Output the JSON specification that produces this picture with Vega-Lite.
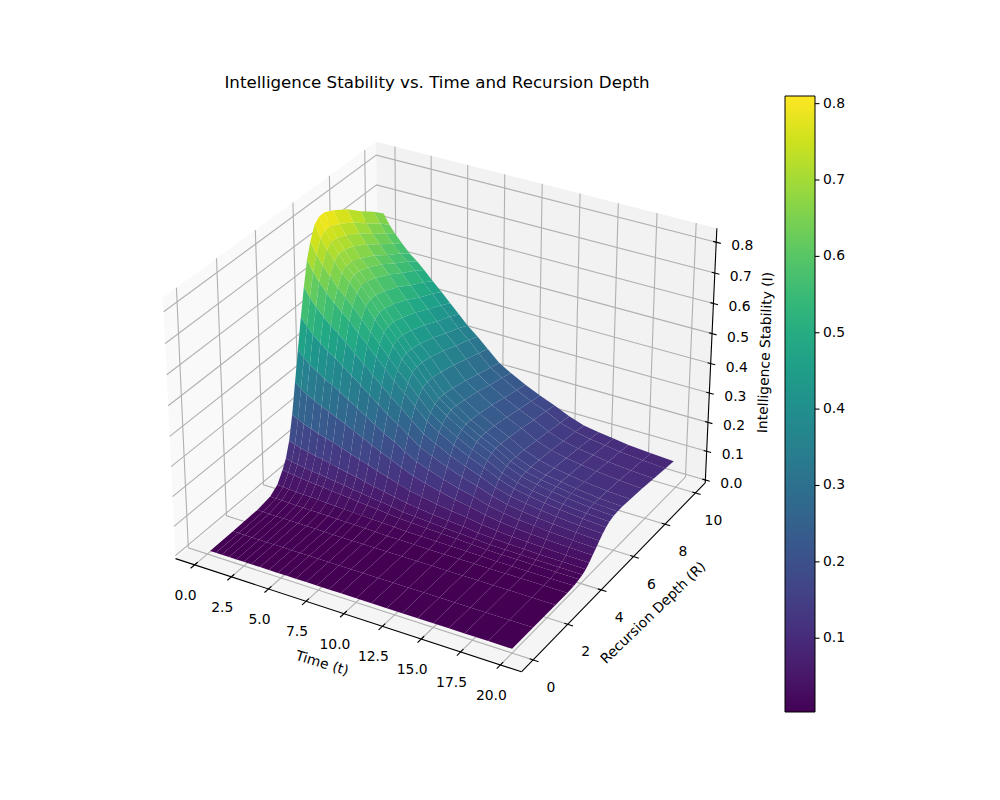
{"$schema":"https://vega.github.io/schema/vega-lite/v6.json","width":1000,"height":800,"padding":0,"autosize":{"type":"none"},"background":"white","config":{"view":{"stroke":null},"font":"DejaVu Sans"},
"title":{"text":"Intelligence Stability vs. Time and Recursion Depth","font":"DejaVu Sans","fontSize":16.67,"fontWeight":"normal","color":"black","anchor":"middle","dx":-63,"dy":96},
"data":{"values":[
{"k":"p","d":"l","t":-1.312,"R":-0.656,"I":-0.01},{"k":"p","d":"l","t":-1.312,"R":10.656,"I":-0.01},{"k":"p","d":"l","t":-1.312,"R":10.656,"I":0.845},{"k":"p","d":"l","t":-1.312,"R":-0.656,"I":0.845},
{"k":"p","d":"b","t":-1.312,"R":10.656,"I":-0.01},{"k":"p","d":"b","t":21.31,"R":10.656,"I":-0.01},{"k":"p","d":"b","t":21.31,"R":10.656,"I":0.845},{"k":"p","d":"b","t":-1.312,"R":10.656,"I":0.845},
{"k":"p","d":"f","t":-1.312,"R":-0.656,"I":-0.01},{"k":"p","d":"f","t":21.31,"R":-0.656,"I":-0.01},{"k":"p","d":"f","t":21.31,"R":10.656,"I":-0.01},{"k":"p","d":"f","t":-1.312,"R":10.656,"I":-0.01},
{"k":"g","d":"t0","t":0,"R":-0.656,"I":-0.01},{"k":"g","d":"t0","t":0,"R":10.656,"I":-0.01},{"k":"g","d":"t0","t":0,"R":10.656,"I":0.845},
{"k":"g","d":"t1","t":2.5,"R":-0.656,"I":-0.01},{"k":"g","d":"t1","t":2.5,"R":10.656,"I":-0.01},{"k":"g","d":"t1","t":2.5,"R":10.656,"I":0.845},
{"k":"g","d":"t2","t":5,"R":-0.656,"I":-0.01},{"k":"g","d":"t2","t":5,"R":10.656,"I":-0.01},{"k":"g","d":"t2","t":5,"R":10.656,"I":0.845},
{"k":"g","d":"t3","t":7.5,"R":-0.656,"I":-0.01},{"k":"g","d":"t3","t":7.5,"R":10.656,"I":-0.01},{"k":"g","d":"t3","t":7.5,"R":10.656,"I":0.845},
{"k":"g","d":"t4","t":10,"R":-0.656,"I":-0.01},{"k":"g","d":"t4","t":10,"R":10.656,"I":-0.01},{"k":"g","d":"t4","t":10,"R":10.656,"I":0.845},
{"k":"g","d":"t5","t":12.5,"R":-0.656,"I":-0.01},{"k":"g","d":"t5","t":12.5,"R":10.656,"I":-0.01},{"k":"g","d":"t5","t":12.5,"R":10.656,"I":0.845},
{"k":"g","d":"t6","t":15,"R":-0.656,"I":-0.01},{"k":"g","d":"t6","t":15,"R":10.656,"I":-0.01},{"k":"g","d":"t6","t":15,"R":10.656,"I":0.845},
{"k":"g","d":"t7","t":17.5,"R":-0.656,"I":-0.01},{"k":"g","d":"t7","t":17.5,"R":10.656,"I":-0.01},{"k":"g","d":"t7","t":17.5,"R":10.656,"I":0.845},
{"k":"g","d":"t8","t":20,"R":-0.656,"I":-0.01},{"k":"g","d":"t8","t":20,"R":10.656,"I":-0.01},{"k":"g","d":"t8","t":20,"R":10.656,"I":0.845},
{"k":"g","d":"r0","t":21.31,"R":0,"I":-0.01},{"k":"g","d":"r0","t":-1.312,"R":0,"I":-0.01},{"k":"g","d":"r0","t":-1.312,"R":0,"I":0.845},
{"k":"g","d":"r1","t":21.31,"R":2,"I":-0.01},{"k":"g","d":"r1","t":-1.312,"R":2,"I":-0.01},{"k":"g","d":"r1","t":-1.312,"R":2,"I":0.845},
{"k":"g","d":"r2","t":21.31,"R":4,"I":-0.01},{"k":"g","d":"r2","t":-1.312,"R":4,"I":-0.01},{"k":"g","d":"r2","t":-1.312,"R":4,"I":0.845},
{"k":"g","d":"r3","t":21.31,"R":6,"I":-0.01},{"k":"g","d":"r3","t":-1.312,"R":6,"I":-0.01},{"k":"g","d":"r3","t":-1.312,"R":6,"I":0.845},
{"k":"g","d":"r4","t":21.31,"R":8,"I":-0.01},{"k":"g","d":"r4","t":-1.312,"R":8,"I":-0.01},{"k":"g","d":"r4","t":-1.312,"R":8,"I":0.845},
{"k":"g","d":"r5","t":21.31,"R":10,"I":-0.01},{"k":"g","d":"r5","t":-1.312,"R":10,"I":-0.01},{"k":"g","d":"r5","t":-1.312,"R":10,"I":0.845},
{"k":"g","d":"i0","t":21.31,"R":10.656,"I":0},{"k":"g","d":"i0","t":-1.312,"R":10.656,"I":0},{"k":"g","d":"i0","t":-1.312,"R":-0.656,"I":0},
{"k":"g","d":"i1","t":21.31,"R":10.656,"I":0.1},{"k":"g","d":"i1","t":-1.312,"R":10.656,"I":0.1},{"k":"g","d":"i1","t":-1.312,"R":-0.656,"I":0.1},
{"k":"g","d":"i2","t":21.31,"R":10.656,"I":0.2},{"k":"g","d":"i2","t":-1.312,"R":10.656,"I":0.2},{"k":"g","d":"i2","t":-1.312,"R":-0.656,"I":0.2},
{"k":"g","d":"i3","t":21.31,"R":10.656,"I":0.3},{"k":"g","d":"i3","t":-1.312,"R":10.656,"I":0.3},{"k":"g","d":"i3","t":-1.312,"R":-0.656,"I":0.3},
{"k":"g","d":"i4","t":21.31,"R":10.656,"I":0.4},{"k":"g","d":"i4","t":-1.312,"R":10.656,"I":0.4},{"k":"g","d":"i4","t":-1.312,"R":-0.656,"I":0.4},
{"k":"g","d":"i5","t":21.31,"R":10.656,"I":0.5},{"k":"g","d":"i5","t":-1.312,"R":10.656,"I":0.5},{"k":"g","d":"i5","t":-1.312,"R":-0.656,"I":0.5},
{"k":"g","d":"i6","t":21.31,"R":10.656,"I":0.6},{"k":"g","d":"i6","t":-1.312,"R":10.656,"I":0.6},{"k":"g","d":"i6","t":-1.312,"R":-0.656,"I":0.6},
{"k":"g","d":"i7","t":21.31,"R":10.656,"I":0.7},{"k":"g","d":"i7","t":-1.312,"R":10.656,"I":0.7},{"k":"g","d":"i7","t":-1.312,"R":-0.656,"I":0.7},
{"k":"g","d":"i8","t":21.31,"R":10.656,"I":0.8},{"k":"g","d":"i8","t":-1.312,"R":10.656,"I":0.8},{"k":"g","d":"i8","t":-1.312,"R":-0.656,"I":0.8},
{"k":"a","d":"at","t":-1.312,"R":-0.656,"I":-0.01},{"k":"a","d":"at","t":21.31,"R":-0.656,"I":-0.01},
{"k":"a","d":"ar","t":21.31,"R":-0.656,"I":-0.01},{"k":"a","d":"ar","t":21.31,"R":10.656,"I":-0.01},
{"k":"a","d":"ai","t":21.31,"R":10.656,"I":-0.01},{"k":"a","d":"ai","t":21.31,"R":10.656,"I":0.845},
{"k":"a","d":"t0","t":0,"R":-0.86,"I":-0.01},{"k":"a","d":"t0","t":0,"R":-0.5,"I":-0.01},
{"k":"a","d":"t1","t":2.5,"R":-0.86,"I":-0.01},{"k":"a","d":"t1","t":2.5,"R":-0.5,"I":-0.01},
{"k":"a","d":"t2","t":5,"R":-0.86,"I":-0.01},{"k":"a","d":"t2","t":5,"R":-0.5,"I":-0.01},
{"k":"a","d":"t3","t":7.5,"R":-0.86,"I":-0.01},{"k":"a","d":"t3","t":7.5,"R":-0.5,"I":-0.01},
{"k":"a","d":"t4","t":10,"R":-0.86,"I":-0.01},{"k":"a","d":"t4","t":10,"R":-0.5,"I":-0.01},
{"k":"a","d":"t5","t":12.5,"R":-0.86,"I":-0.01},{"k":"a","d":"t5","t":12.5,"R":-0.5,"I":-0.01},
{"k":"a","d":"t6","t":15,"R":-0.86,"I":-0.01},{"k":"a","d":"t6","t":15,"R":-0.5,"I":-0.01},
{"k":"a","d":"t7","t":17.5,"R":-0.86,"I":-0.01},{"k":"a","d":"t7","t":17.5,"R":-0.5,"I":-0.01},
{"k":"a","d":"t8","t":20,"R":-0.86,"I":-0.01},{"k":"a","d":"t8","t":20,"R":-0.5,"I":-0.01},
{"k":"a","d":"r0","t":21.1,"R":0,"I":-0.01},{"k":"a","d":"r0","t":21.65,"R":0,"I":-0.01},
{"k":"a","d":"r1","t":21.1,"R":2,"I":-0.01},{"k":"a","d":"r1","t":21.65,"R":2,"I":-0.01},
{"k":"a","d":"r2","t":21.1,"R":4,"I":-0.01},{"k":"a","d":"r2","t":21.65,"R":4,"I":-0.01},
{"k":"a","d":"r3","t":21.1,"R":6,"I":-0.01},{"k":"a","d":"r3","t":21.65,"R":6,"I":-0.01},
{"k":"a","d":"r4","t":21.1,"R":8,"I":-0.01},{"k":"a","d":"r4","t":21.65,"R":8,"I":-0.01},
{"k":"a","d":"r5","t":21.1,"R":10,"I":-0.01},{"k":"a","d":"r5","t":21.65,"R":10,"I":-0.01},
{"k":"a","d":"i0","t":21.11,"R":10.656,"I":0},{"k":"a","d":"i0","t":21.6,"R":10.656,"I":0},
{"k":"a","d":"i1","t":21.11,"R":10.656,"I":0.1},{"k":"a","d":"i1","t":21.6,"R":10.656,"I":0.1},
{"k":"a","d":"i2","t":21.11,"R":10.656,"I":0.2},{"k":"a","d":"i2","t":21.6,"R":10.656,"I":0.2},
{"k":"a","d":"i3","t":21.11,"R":10.656,"I":0.3},{"k":"a","d":"i3","t":21.6,"R":10.656,"I":0.3},
{"k":"a","d":"i4","t":21.11,"R":10.656,"I":0.4},{"k":"a","d":"i4","t":21.6,"R":10.656,"I":0.4},
{"k":"a","d":"i5","t":21.11,"R":10.656,"I":0.5},{"k":"a","d":"i5","t":21.6,"R":10.656,"I":0.5},
{"k":"a","d":"i6","t":21.11,"R":10.656,"I":0.6},{"k":"a","d":"i6","t":21.6,"R":10.656,"I":0.6},
{"k":"a","d":"i7","t":21.11,"R":10.656,"I":0.7},{"k":"a","d":"i7","t":21.6,"R":10.656,"I":0.7},
{"k":"a","d":"i8","t":21.11,"R":10.656,"I":0.8},{"k":"a","d":"i8","t":21.6,"R":10.656,"I":0.8},
{"k":"lt","t":0,"R":-0.656,"I":-0.01,"s":"0.0"},{"k":"lt","t":2.5,"R":-0.656,"I":-0.01,"s":"2.5"},{"k":"lt","t":5,"R":-0.656,"I":-0.01,"s":"5.0"},{"k":"lt","t":7.5,"R":-0.656,"I":-0.01,"s":"7.5"},{"k":"lt","t":10,"R":-0.656,"I":-0.01,"s":"10.0"},{"k":"lt","t":12.5,"R":-0.656,"I":-0.01,"s":"12.5"},{"k":"lt","t":15,"R":-0.656,"I":-0.01,"s":"15.0"},{"k":"lt","t":17.5,"R":-0.656,"I":-0.01,"s":"17.5"},{"k":"lt","t":20,"R":-0.656,"I":-0.01,"s":"20.0"},
{"k":"lr","t":21.31,"R":0,"I":-0.01,"s":"0"},{"k":"lr","t":21.31,"R":2,"I":-0.01,"s":"2"},{"k":"lr","t":21.31,"R":4,"I":-0.01,"s":"4"},{"k":"lr","t":21.31,"R":6,"I":-0.01,"s":"6"},{"k":"lr","t":21.31,"R":8,"I":-0.01,"s":"8"},{"k":"lr","t":21.31,"R":10,"I":-0.01,"s":"10"},
{"k":"li","t":21.31,"R":10.656,"I":0,"s":"0.0"},{"k":"li","t":21.31,"R":10.656,"I":0.1,"s":"0.1"},{"k":"li","t":21.31,"R":10.656,"I":0.2,"s":"0.2"},{"k":"li","t":21.31,"R":10.656,"I":0.3,"s":"0.3"},{"k":"li","t":21.31,"R":10.656,"I":0.4,"s":"0.4"},{"k":"li","t":21.31,"R":10.656,"I":0.5,"s":"0.5"},{"k":"li","t":21.31,"R":10.656,"I":0.6,"s":"0.6"},{"k":"li","t":21.31,"R":10.656,"I":0.7,"s":"0.7"},{"k":"li","t":21.31,"R":10.656,"I":0.8,"s":"0.8"},
{"k":"tt","t":10,"R":-0.656,"I":-0.01,"s":"Time (t)"},{"k":"tr","t":21.31,"R":5,"I":-0.01,"s":"Recursion Depth (R)"},{"k":"ti","t":21.31,"R":10.656,"I":0.4,"s":"Intelligence Stability (I)"},
{"k":"cb","cb":0.1},{"k":"cb","cb":0.2},{"k":"cb","cb":0.3},{"k":"cb","cb":0.4},{"k":"cb","cb":0.5},{"k":"cb","cb":0.6},{"k":"cb","cb":0.7},{"k":"cb","cb":0.8},
{"t":0.2,"R":9.8,"I":0.66},{"t":0.2,"R":9.25,"I":0.69},{"t":0.2,"R":8.5,"I":0.725},{"t":0.2,"R":7.75,"I":0.765},{"t":0.2,"R":7,"I":0.795},{"t":0.2,"R":6.5,"I":0.81},{"t":0.2,"R":6.2,"I":0.81},{"t":0.2,"R":5.95,"I":0.795},{"t":0.2,"R":5.7,"I":0.75},{"t":0.2,"R":5.5,"I":0.7},{"t":0.2,"R":5.3,"I":0.62},{"t":0.2,"R":5.1,"I":0.53},{"t":0.2,"R":4.9,"I":0.43},{"t":0.2,"R":4.7,"I":0.33},{"t":0.2,"R":4.5,"I":0.23},{"t":0.2,"R":4.3,"I":0.15},{"t":0.2,"R":4.1,"I":0.1},{"t":0.2,"R":3.9,"I":0.07},{"t":0.2,"R":3.6,"I":0.035},{"t":0.2,"R":3.2,"I":0.016},{"t":0.2,"R":2.5,"I":0.007},{"t":0.2,"R":1.2,"I":0.005},{"t":0.2,"R":0,"I":0.004},
{"t":0.6,"R":9.8,"I":0.627},{"t":0.6,"R":9.25,"I":0.656},{"t":0.6,"R":8.5,"I":0.689},{"t":0.6,"R":7.75,"I":0.727},{"t":0.6,"R":7,"I":0.755},{"t":0.6,"R":6.5,"I":0.77},{"t":0.6,"R":6.2,"I":0.77},{"t":0.6,"R":5.95,"I":0.755},{"t":0.6,"R":5.7,"I":0.713},{"t":0.6,"R":5.5,"I":0.665},{"t":0.6,"R":5.3,"I":0.589},{"t":0.6,"R":5.1,"I":0.504},{"t":0.6,"R":4.9,"I":0.409},{"t":0.6,"R":4.7,"I":0.314},{"t":0.6,"R":4.5,"I":0.219},{"t":0.6,"R":4.3,"I":0.143},{"t":0.6,"R":4.1,"I":0.095},{"t":0.6,"R":3.9,"I":0.067},{"t":0.6,"R":3.6,"I":0.033},{"t":0.6,"R":3.2,"I":0.015},{"t":0.6,"R":2.5,"I":0.007},{"t":0.6,"R":1.2,"I":0.005},{"t":0.6,"R":0,"I":0.004},
{"t":1,"R":9.8,"I":0.601},{"t":1,"R":9.25,"I":0.628},{"t":1,"R":8.5,"I":0.66},{"t":1,"R":7.75,"I":0.696},{"t":1,"R":7,"I":0.723},{"t":1,"R":6.5,"I":0.737},{"t":1,"R":6.2,"I":0.737},{"t":1,"R":5.95,"I":0.723},{"t":1,"R":5.7,"I":0.683},{"t":1,"R":5.5,"I":0.637},{"t":1,"R":5.3,"I":0.564},{"t":1,"R":5.1,"I":0.482},{"t":1,"R":4.9,"I":0.391},{"t":1,"R":4.7,"I":0.3},{"t":1,"R":4.5,"I":0.209},{"t":1,"R":4.3,"I":0.137},{"t":1,"R":4.1,"I":0.091},{"t":1,"R":3.9,"I":0.064},{"t":1,"R":3.6,"I":0.032},{"t":1,"R":3.2,"I":0.015},{"t":1,"R":2.5,"I":0.006},{"t":1,"R":1.2,"I":0.005},{"t":1,"R":0,"I":0.004},
{"t":1.5,"R":9.8,"I":0.574},{"t":1.5,"R":9.25,"I":0.6},{"t":1.5,"R":8.5,"I":0.631},{"t":1.5,"R":7.75,"I":0.666},{"t":1.5,"R":7,"I":0.692},{"t":1.5,"R":6.5,"I":0.705},{"t":1.5,"R":6.2,"I":0.705},{"t":1.5,"R":5.95,"I":0.692},{"t":1.5,"R":5.7,"I":0.653},{"t":1.5,"R":5.5,"I":0.609},{"t":1.5,"R":5.3,"I":0.539},{"t":1.5,"R":5.1,"I":0.461},{"t":1.5,"R":4.9,"I":0.374},{"t":1.5,"R":4.7,"I":0.287},{"t":1.5,"R":4.5,"I":0.2},{"t":1.5,"R":4.3,"I":0.131},{"t":1.5,"R":4.1,"I":0.087},{"t":1.5,"R":3.9,"I":0.061},{"t":1.5,"R":3.6,"I":0.03},{"t":1.5,"R":3.2,"I":0.014},{"t":1.5,"R":2.5,"I":0.006},{"t":1.5,"R":1.2,"I":0.004},{"t":1.5,"R":0,"I":0.004},
{"t":2,"R":9.8,"I":0.548},{"t":2,"R":9.25,"I":0.573},{"t":2,"R":8.5,"I":0.602},{"t":2,"R":7.75,"I":0.635},{"t":2,"R":7,"I":0.66},{"t":2,"R":6.5,"I":0.672},{"t":2,"R":6.2,"I":0.672},{"t":2,"R":5.95,"I":0.66},{"t":2,"R":5.7,"I":0.623},{"t":2,"R":5.5,"I":0.581},{"t":2,"R":5.3,"I":0.515},{"t":2,"R":5.1,"I":0.44},{"t":2,"R":4.9,"I":0.357},{"t":2,"R":4.7,"I":0.274},{"t":2,"R":4.5,"I":0.191},{"t":2,"R":4.3,"I":0.125},{"t":2,"R":4.1,"I":0.083},{"t":2,"R":3.9,"I":0.058},{"t":2,"R":3.6,"I":0.029},{"t":2,"R":3.2,"I":0.013},{"t":2,"R":2.5,"I":0.006},{"t":2,"R":1.2,"I":0.004},{"t":2,"R":0,"I":0.004},
{"t":2.5,"R":9.8,"I":0.528},{"t":2.5,"R":9.25,"I":0.552},{"t":2.5,"R":8.5,"I":0.58},{"t":2.5,"R":7.75,"I":0.612},{"t":2.5,"R":7,"I":0.636},{"t":2.5,"R":6.5,"I":0.648},{"t":2.5,"R":6.2,"I":0.648},{"t":2.5,"R":5.95,"I":0.636},{"t":2.5,"R":5.7,"I":0.6},{"t":2.5,"R":5.5,"I":0.56},{"t":2.5,"R":5.3,"I":0.496},{"t":2.5,"R":5.1,"I":0.424},{"t":2.5,"R":4.9,"I":0.344},{"t":2.5,"R":4.7,"I":0.264},{"t":2.5,"R":4.5,"I":0.184},{"t":2.5,"R":4.3,"I":0.12},{"t":2.5,"R":4.1,"I":0.08},{"t":2.5,"R":3.9,"I":0.056},{"t":2.5,"R":3.6,"I":0.028},{"t":2.5,"R":3.2,"I":0.013},{"t":2.5,"R":2.5,"I":0.006},{"t":2.5,"R":1.2,"I":0.004},{"t":2.5,"R":0,"I":0.004},
{"t":3,"R":9.8,"I":0.505},{"t":3,"R":9.25,"I":0.528},{"t":3,"R":8.5,"I":0.555},{"t":3,"R":7.75,"I":0.585},{"t":3,"R":7,"I":0.608},{"t":3,"R":6.5,"I":0.62},{"t":3,"R":6.2,"I":0.62},{"t":3,"R":5.95,"I":0.608},{"t":3,"R":5.7,"I":0.574},{"t":3,"R":5.5,"I":0.536},{"t":3,"R":5.3,"I":0.474},{"t":3,"R":5.1,"I":0.405},{"t":3,"R":4.9,"I":0.329},{"t":3,"R":4.7,"I":0.252},{"t":3,"R":4.5,"I":0.176},{"t":3,"R":4.3,"I":0.115},{"t":3,"R":4.1,"I":0.077},{"t":3,"R":3.9,"I":0.054},{"t":3,"R":3.6,"I":0.027},{"t":3,"R":3.2,"I":0.012},{"t":3,"R":2.5,"I":0.005},{"t":3,"R":1.2,"I":0.004},{"t":3,"R":0,"I":0.004},
{"t":3.6,"R":9.8,"I":0.475},{"t":3.6,"R":9.25,"I":0.497},{"t":3.6,"R":8.5,"I":0.522},{"t":3.6,"R":7.75,"I":0.551},{"t":3.6,"R":7,"I":0.572},{"t":3.6,"R":6.5,"I":0.583},{"t":3.6,"R":6.2,"I":0.583},{"t":3.6,"R":5.95,"I":0.572},{"t":3.6,"R":5.7,"I":0.54},{"t":3.6,"R":5.5,"I":0.504},{"t":3.6,"R":5.3,"I":0.446},{"t":3.6,"R":5.1,"I":0.382},{"t":3.6,"R":4.9,"I":0.31},{"t":3.6,"R":4.7,"I":0.238},{"t":3.6,"R":4.5,"I":0.166},{"t":3.6,"R":4.3,"I":0.108},{"t":3.6,"R":4.1,"I":0.072},{"t":3.6,"R":3.9,"I":0.05},{"t":3.6,"R":3.6,"I":0.025},{"t":3.6,"R":3.2,"I":0.012},{"t":3.6,"R":2.5,"I":0.005},{"t":3.6,"R":1.2,"I":0.004},{"t":3.6,"R":0,"I":0.004},
{"t":4.2,"R":9.8,"I":0.446},{"t":4.2,"R":9.25,"I":0.466},{"t":4.2,"R":8.5,"I":0.489},{"t":4.2,"R":7.75,"I":0.516},{"t":4.2,"R":7,"I":0.537},{"t":4.2,"R":6.5,"I":0.547},{"t":4.2,"R":6.2,"I":0.547},{"t":4.2,"R":5.95,"I":0.537},{"t":4.2,"R":5.7,"I":0.506},{"t":4.2,"R":5.5,"I":0.473},{"t":4.2,"R":5.3,"I":0.419},{"t":4.2,"R":5.1,"I":0.358},{"t":4.2,"R":4.9,"I":0.29},{"t":4.2,"R":4.7,"I":0.223},{"t":4.2,"R":4.5,"I":0.155},{"t":4.2,"R":4.3,"I":0.101},{"t":4.2,"R":4.1,"I":0.068},{"t":4.2,"R":3.9,"I":0.047},{"t":4.2,"R":3.6,"I":0.024},{"t":4.2,"R":3.2,"I":0.011},{"t":4.2,"R":2.5,"I":0.005},{"t":4.2,"R":1.2,"I":0.004},{"t":4.2,"R":0,"I":0.004},
{"t":4.8,"R":9.8,"I":0.416},{"t":4.8,"R":9.25,"I":0.435},{"t":4.8,"R":8.5,"I":0.457},{"t":4.8,"R":7.75,"I":0.482},{"t":4.8,"R":7,"I":0.501},{"t":4.8,"R":6.5,"I":0.51},{"t":4.8,"R":6.2,"I":0.51},{"t":4.8,"R":5.95,"I":0.501},{"t":4.8,"R":5.7,"I":0.473},{"t":4.8,"R":5.5,"I":0.441},{"t":4.8,"R":5.3,"I":0.391},{"t":4.8,"R":5.1,"I":0.334},{"t":4.8,"R":4.9,"I":0.271},{"t":4.8,"R":4.7,"I":0.208},{"t":4.8,"R":4.5,"I":0.145},{"t":4.8,"R":4.3,"I":0.095},{"t":4.8,"R":4.1,"I":0.063},{"t":4.8,"R":3.9,"I":0.044},{"t":4.8,"R":3.6,"I":0.022},{"t":4.8,"R":3.2,"I":0.01},{"t":4.8,"R":2.5,"I":0.005},{"t":4.8,"R":1.2,"I":0.004},{"t":4.8,"R":0,"I":0.004},
{"t":5.4,"R":9.8,"I":0.386},{"t":5.4,"R":9.25,"I":0.404},{"t":5.4,"R":8.5,"I":0.424},{"t":5.4,"R":7.75,"I":0.448},{"t":5.4,"R":7,"I":0.465},{"t":5.4,"R":6.5,"I":0.474},{"t":5.4,"R":6.2,"I":0.474},{"t":5.4,"R":5.95,"I":0.465},{"t":5.4,"R":5.7,"I":0.439},{"t":5.4,"R":5.5,"I":0.41},{"t":5.4,"R":5.3,"I":0.363},{"t":5.4,"R":5.1,"I":0.31},{"t":5.4,"R":4.9,"I":0.252},{"t":5.4,"R":4.7,"I":0.193},{"t":5.4,"R":4.5,"I":0.135},{"t":5.4,"R":4.3,"I":0.088},{"t":5.4,"R":4.1,"I":0.059},{"t":5.4,"R":3.9,"I":0.041},{"t":5.4,"R":3.6,"I":0.02},{"t":5.4,"R":3.2,"I":0.009},{"t":5.4,"R":2.5,"I":0.004},{"t":5.4,"R":1.2,"I":0.004},{"t":5.4,"R":0,"I":0.004},
{"t":6,"R":9.8,"I":0.356},{"t":6,"R":9.25,"I":0.373},{"t":6,"R":8.5,"I":0.392},{"t":6,"R":7.75,"I":0.413},{"t":6,"R":7,"I":0.429},{"t":6,"R":6.5,"I":0.437},{"t":6,"R":6.2,"I":0.437},{"t":6,"R":5.95,"I":0.429},{"t":6,"R":5.7,"I":0.405},{"t":6,"R":5.5,"I":0.378},{"t":6,"R":5.3,"I":0.335},{"t":6,"R":5.1,"I":0.286},{"t":6,"R":4.9,"I":0.232},{"t":6,"R":4.7,"I":0.178},{"t":6,"R":4.5,"I":0.124},{"t":6,"R":4.3,"I":0.081},{"t":6,"R":4.1,"I":0.054},{"t":6,"R":3.9,"I":0.038},{"t":6,"R":3.6,"I":0.019},{"t":6,"R":3.2,"I":0.009},{"t":6,"R":2.5,"I":0.004},{"t":6,"R":1.2,"I":0.004},{"t":6,"R":0,"I":0.004},
{"t":6.7,"R":9.8,"I":0.327},{"t":6.7,"R":9.25,"I":0.342},{"t":6.7,"R":8.5,"I":0.359},{"t":6.7,"R":7.75,"I":0.379},{"t":6.7,"R":7,"I":0.394},{"t":6.7,"R":6.5,"I":0.401},{"t":6.7,"R":6.2,"I":0.401},{"t":6.7,"R":5.95,"I":0.394},{"t":6.7,"R":5.7,"I":0.371},{"t":6.7,"R":5.5,"I":0.347},{"t":6.7,"R":5.3,"I":0.307},{"t":6.7,"R":5.1,"I":0.262},{"t":6.7,"R":4.9,"I":0.213},{"t":6.7,"R":4.7,"I":0.163},{"t":6.7,"R":4.5,"I":0.114},{"t":6.7,"R":4.3,"I":0.074},{"t":6.7,"R":4.1,"I":0.05},{"t":6.7,"R":3.9,"I":0.035},{"t":6.7,"R":3.6,"I":0.017},{"t":6.7,"R":3.2,"I":0.008},{"t":6.7,"R":2.5,"I":0.004},{"t":6.7,"R":1.2,"I":0.004},{"t":6.7,"R":0,"I":0.004},
{"t":7.4,"R":9.8,"I":0.294},{"t":7.4,"R":9.25,"I":0.307},{"t":7.4,"R":8.5,"I":0.323},{"t":7.4,"R":7.75,"I":0.34},{"t":7.4,"R":7,"I":0.354},{"t":7.4,"R":6.5,"I":0.36},{"t":7.4,"R":6.2,"I":0.36},{"t":7.4,"R":5.95,"I":0.354},{"t":7.4,"R":5.7,"I":0.334},{"t":7.4,"R":5.5,"I":0.312},{"t":7.4,"R":5.3,"I":0.276},{"t":7.4,"R":5.1,"I":0.236},{"t":7.4,"R":4.9,"I":0.191},{"t":7.4,"R":4.7,"I":0.147},{"t":7.4,"R":4.5,"I":0.102},{"t":7.4,"R":4.3,"I":0.067},{"t":7.4,"R":4.1,"I":0.045},{"t":7.4,"R":3.9,"I":0.031},{"t":7.4,"R":3.6,"I":0.016},{"t":7.4,"R":3.2,"I":0.007},{"t":7.4,"R":2.5,"I":0.004},{"t":7.4,"R":1.2,"I":0.004},{"t":7.4,"R":0,"I":0.004},
{"t":8.2,"R":9.8,"I":0.257},{"t":8.2,"R":9.25,"I":0.269},{"t":8.2,"R":8.5,"I":0.283},{"t":8.2,"R":7.75,"I":0.298},{"t":8.2,"R":7,"I":0.31},{"t":8.2,"R":6.5,"I":0.316},{"t":8.2,"R":6.2,"I":0.316},{"t":8.2,"R":5.95,"I":0.31},{"t":8.2,"R":5.7,"I":0.293},{"t":8.2,"R":5.5,"I":0.273},{"t":8.2,"R":5.3,"I":0.242},{"t":8.2,"R":5.1,"I":0.207},{"t":8.2,"R":4.9,"I":0.168},{"t":8.2,"R":4.7,"I":0.129},{"t":8.2,"R":4.5,"I":0.09},{"t":8.2,"R":4.3,"I":0.059},{"t":8.2,"R":4.1,"I":0.039},{"t":8.2,"R":3.9,"I":0.027},{"t":8.2,"R":3.6,"I":0.014},{"t":8.2,"R":3.2,"I":0.006},{"t":8.2,"R":2.5,"I":0.004},{"t":8.2,"R":1.2,"I":0.004},{"t":8.2,"R":0,"I":0.004},
{"t":9,"R":9.8,"I":0.234},{"t":9,"R":9.25,"I":0.245},{"t":9,"R":8.5,"I":0.257},{"t":9,"R":7.75,"I":0.272},{"t":9,"R":7,"I":0.282},{"t":9,"R":6.5,"I":0.288},{"t":9,"R":6.2,"I":0.288},{"t":9,"R":5.95,"I":0.282},{"t":9,"R":5.7,"I":0.266},{"t":9,"R":5.5,"I":0.249},{"t":9,"R":5.3,"I":0.22},{"t":9,"R":5.1,"I":0.188},{"t":9,"R":4.9,"I":0.153},{"t":9,"R":4.7,"I":0.117},{"t":9,"R":4.5,"I":0.082},{"t":9,"R":4.3,"I":0.053},{"t":9,"R":4.1,"I":0.036},{"t":9,"R":3.9,"I":0.025},{"t":9,"R":3.6,"I":0.012},{"t":9,"R":3.2,"I":0.006},{"t":9,"R":2.5,"I":0.004},{"t":9,"R":1.2,"I":0.004},{"t":9,"R":0,"I":0.004},
{"t":10,"R":9.8,"I":0.208},{"t":10,"R":9.25,"I":0.217},{"t":10,"R":8.5,"I":0.228},{"t":10,"R":7.75,"I":0.241},{"t":10,"R":7,"I":0.25},{"t":10,"R":6.5,"I":0.255},{"t":10,"R":6.2,"I":0.255},{"t":10,"R":5.95,"I":0.25},{"t":10,"R":5.7,"I":0.236},{"t":10,"R":5.5,"I":0.221},{"t":10,"R":5.3,"I":0.195},{"t":10,"R":5.1,"I":0.167},{"t":10,"R":4.9,"I":0.135},{"t":10,"R":4.7,"I":0.104},{"t":10,"R":4.5,"I":0.072},{"t":10,"R":4.3,"I":0.047},{"t":10,"R":4.1,"I":0.032},{"t":10,"R":3.9,"I":0.022},{"t":10,"R":3.6,"I":0.011},{"t":10,"R":3.2,"I":0.005},{"t":10,"R":2.5,"I":0.004},{"t":10,"R":1.2,"I":0.004},{"t":10,"R":0,"I":0.004},
{"t":11,"R":9.8,"I":0.185},{"t":11,"R":9.25,"I":0.193},{"t":11,"R":8.5,"I":0.203},{"t":11,"R":7.75,"I":0.214},{"t":11,"R":7,"I":0.223},{"t":11,"R":6.5,"I":0.227},{"t":11,"R":6.2,"I":0.227},{"t":11,"R":5.95,"I":0.223},{"t":11,"R":5.7,"I":0.21},{"t":11,"R":5.5,"I":0.196},{"t":11,"R":5.3,"I":0.174},{"t":11,"R":5.1,"I":0.148},{"t":11,"R":4.9,"I":0.12},{"t":11,"R":4.7,"I":0.092},{"t":11,"R":4.5,"I":0.064},{"t":11,"R":4.3,"I":0.042},{"t":11,"R":4.1,"I":0.028},{"t":11,"R":3.9,"I":0.02},{"t":11,"R":3.6,"I":0.01},{"t":11,"R":3.2,"I":0.004},{"t":11,"R":2.5,"I":0.004},{"t":11,"R":1.2,"I":0.004},{"t":11,"R":0,"I":0.004},
{"t":12,"R":9.8,"I":0.165},{"t":12,"R":9.25,"I":0.173},{"t":12,"R":8.5,"I":0.181},{"t":12,"R":7.75,"I":0.191},{"t":12,"R":7,"I":0.199},{"t":12,"R":6.5,"I":0.203},{"t":12,"R":6.2,"I":0.203},{"t":12,"R":5.95,"I":0.199},{"t":12,"R":5.7,"I":0.188},{"t":12,"R":5.5,"I":0.175},{"t":12,"R":5.3,"I":0.155},{"t":12,"R":5.1,"I":0.133},{"t":12,"R":4.9,"I":0.108},{"t":12,"R":4.7,"I":0.083},{"t":12,"R":4.5,"I":0.058},{"t":12,"R":4.3,"I":0.038},{"t":12,"R":4.1,"I":0.025},{"t":12,"R":3.9,"I":0.018},{"t":12,"R":3.6,"I":0.009},{"t":12,"R":3.2,"I":0.004},{"t":12,"R":2.5,"I":0.004},{"t":12,"R":1.2,"I":0.004},{"t":12,"R":0,"I":0.004},
{"t":13,"R":9.8,"I":0.142},{"t":13,"R":9.25,"I":0.148},{"t":13,"R":8.5,"I":0.156},{"t":13,"R":7.75,"I":0.164},{"t":13,"R":7,"I":0.171},{"t":13,"R":6.5,"I":0.174},{"t":13,"R":6.2,"I":0.174},{"t":13,"R":5.95,"I":0.171},{"t":13,"R":5.7,"I":0.161},{"t":13,"R":5.5,"I":0.151},{"t":13,"R":5.3,"I":0.133},{"t":13,"R":5.1,"I":0.114},{"t":13,"R":4.9,"I":0.092},{"t":13,"R":4.7,"I":0.071},{"t":13,"R":4.5,"I":0.049},{"t":13,"R":4.3,"I":0.032},{"t":13,"R":4.1,"I":0.022},{"t":13,"R":3.9,"I":0.015},{"t":13,"R":3.6,"I":0.008},{"t":13,"R":3.2,"I":0.004},{"t":13,"R":2.5,"I":0.004},{"t":13,"R":1.2,"I":0.004},{"t":13,"R":0,"I":0.004},
{"t":14,"R":9.8,"I":0.125},{"t":14,"R":9.25,"I":0.131},{"t":14,"R":8.5,"I":0.138},{"t":14,"R":7.75,"I":0.145},{"t":14,"R":7,"I":0.151},{"t":14,"R":6.5,"I":0.154},{"t":14,"R":6.2,"I":0.154},{"t":14,"R":5.95,"I":0.151},{"t":14,"R":5.7,"I":0.143},{"t":14,"R":5.5,"I":0.133},{"t":14,"R":5.3,"I":0.118},{"t":14,"R":5.1,"I":0.101},{"t":14,"R":4.9,"I":0.082},{"t":14,"R":4.7,"I":0.063},{"t":14,"R":4.5,"I":0.044},{"t":14,"R":4.3,"I":0.029},{"t":14,"R":4.1,"I":0.019},{"t":14,"R":3.9,"I":0.013},{"t":14,"R":3.6,"I":0.007},{"t":14,"R":3.2,"I":0.004},{"t":14,"R":2.5,"I":0.004},{"t":14,"R":1.2,"I":0.004},{"t":14,"R":0,"I":0.004},
{"t":15,"R":9.8,"I":0.116},{"t":15,"R":9.25,"I":0.121},{"t":15,"R":8.5,"I":0.127},{"t":15,"R":7.75,"I":0.134},{"t":15,"R":7,"I":0.139},{"t":15,"R":6.5,"I":0.142},{"t":15,"R":6.2,"I":0.142},{"t":15,"R":5.95,"I":0.139},{"t":15,"R":5.7,"I":0.131},{"t":15,"R":5.5,"I":0.123},{"t":15,"R":5.3,"I":0.109},{"t":15,"R":5.1,"I":0.093},{"t":15,"R":4.9,"I":0.075},{"t":15,"R":4.7,"I":0.058},{"t":15,"R":4.5,"I":0.04},{"t":15,"R":4.3,"I":0.026},{"t":15,"R":4.1,"I":0.018},{"t":15,"R":3.9,"I":0.012},{"t":15,"R":3.6,"I":0.006},{"t":15,"R":3.2,"I":0.004},{"t":15,"R":2.5,"I":0.004},{"t":15,"R":1.2,"I":0.004},{"t":15,"R":0,"I":0.004},
{"t":16,"R":9.8,"I":0.109},{"t":16,"R":9.25,"I":0.114},{"t":16,"R":8.5,"I":0.12},{"t":16,"R":7.75,"I":0.126},{"t":16,"R":7,"I":0.131},{"t":16,"R":6.5,"I":0.134},{"t":16,"R":6.2,"I":0.134},{"t":16,"R":5.95,"I":0.131},{"t":16,"R":5.7,"I":0.124},{"t":16,"R":5.5,"I":0.116},{"t":16,"R":5.3,"I":0.102},{"t":16,"R":5.1,"I":0.087},{"t":16,"R":4.9,"I":0.071},{"t":16,"R":4.7,"I":0.054},{"t":16,"R":4.5,"I":0.038},{"t":16,"R":4.3,"I":0.025},{"t":16,"R":4.1,"I":0.017},{"t":16,"R":3.9,"I":0.012},{"t":16,"R":3.6,"I":0.006},{"t":16,"R":3.2,"I":0.004},{"t":16,"R":2.5,"I":0.004},{"t":16,"R":1.2,"I":0.004},{"t":16,"R":0,"I":0.004},
{"t":17,"R":9.8,"I":0.102},{"t":17,"R":9.25,"I":0.107},{"t":17,"R":8.5,"I":0.112},{"t":17,"R":7.75,"I":0.119},{"t":17,"R":7,"I":0.123},{"t":17,"R":6.5,"I":0.126},{"t":17,"R":6.2,"I":0.126},{"t":17,"R":5.95,"I":0.123},{"t":17,"R":5.7,"I":0.116},{"t":17,"R":5.5,"I":0.109},{"t":17,"R":5.3,"I":0.096},{"t":17,"R":5.1,"I":0.082},{"t":17,"R":4.9,"I":0.067},{"t":17,"R":4.7,"I":0.051},{"t":17,"R":4.5,"I":0.036},{"t":17,"R":4.3,"I":0.023},{"t":17,"R":4.1,"I":0.016},{"t":17,"R":3.9,"I":0.011},{"t":17,"R":3.6,"I":0.005},{"t":17,"R":3.2,"I":0.004},{"t":17,"R":2.5,"I":0.004},{"t":17,"R":1.2,"I":0.004},{"t":17,"R":0,"I":0.004},
{"t":18.5,"R":9.8,"I":0.096},{"t":18.5,"R":9.25,"I":0.1},{"t":18.5,"R":8.5,"I":0.105},{"t":18.5,"R":7.75,"I":0.111},{"t":18.5,"R":7,"I":0.115},{"t":18.5,"R":6.5,"I":0.117},{"t":18.5,"R":6.2,"I":0.117},{"t":18.5,"R":5.95,"I":0.115},{"t":18.5,"R":5.7,"I":0.109},{"t":18.5,"R":5.5,"I":0.102},{"t":18.5,"R":5.3,"I":0.09},{"t":18.5,"R":5.1,"I":0.077},{"t":18.5,"R":4.9,"I":0.062},{"t":18.5,"R":4.7,"I":0.048},{"t":18.5,"R":4.5,"I":0.033},{"t":18.5,"R":4.3,"I":0.022},{"t":18.5,"R":4.1,"I":0.015},{"t":18.5,"R":3.9,"I":0.01},{"t":18.5,"R":3.6,"I":0.005},{"t":18.5,"R":3.2,"I":0.004},{"t":18.5,"R":2.5,"I":0.004},{"t":18.5,"R":1.2,"I":0.004},{"t":18.5,"R":0,"I":0.004},
{"t":20,"R":9.8,"I":0.091},{"t":20,"R":9.25,"I":0.095},{"t":20,"R":8.5,"I":0.1},{"t":20,"R":7.75,"I":0.106},{"t":20,"R":7,"I":0.11},{"t":20,"R":6.5,"I":0.112},{"t":20,"R":6.2,"I":0.112},{"t":20,"R":5.95,"I":0.11},{"t":20,"R":5.7,"I":0.104},{"t":20,"R":5.5,"I":0.097},{"t":20,"R":5.3,"I":0.086},{"t":20,"R":5.1,"I":0.073},{"t":20,"R":4.9,"I":0.059},{"t":20,"R":4.7,"I":0.046},{"t":20,"R":4.5,"I":0.032},{"t":20,"R":4.3,"I":0.021},{"t":20,"R":4.1,"I":0.014},{"t":20,"R":3.9,"I":0.01},{"t":20,"R":3.6,"I":0.005},{"t":20,"R":3.2,"I":0.004},{"t":20,"R":2.5,"I":0.004},{"t":20,"R":1.2,"I":0.004},{"t":20,"R":0,"I":0.004}
]},
"transform":[
{"window":[{"op":"row_number","as":"n"}]},
{"calculate":"1.19048*(0.058+0.0442*datum.t)-0.59524","as":"dx"},
{"calculate":"1.19048*(0.058+0.0884*datum.R)-0.59524","as":"dy"},
{"calculate":"0.89286*(0.012+1.169*datum.I)-0.44643","as":"dz"},
{"calculate":"10-(0.43301*datum.dx-0.75*datum.dy+0.5*datum.dz)","as":"w"},
{"calculate":"(0.86603*datum.dx+0.5*datum.dy)/datum.w","as":"X"},
{"calculate":"(-0.25*datum.dx+0.43301*datum.dy+0.86603*datum.dz)/datum.w","as":"Y"}
],
"encoding":{
"x":{"field":"X","type":"quantitative","axis":null,"scale":{"domain":[-0.13376,0.16663],"zero":false,"nice":false}},
"y":{"field":"Y","type":"quantitative","axis":null,"scale":{"domain":[-0.12174,0.11814],"zero":false,"nice":false}}
},
"layer":[
{"transform":[{"filter":"datum.k=='p'"}],"mark":{"type":"line","strokeWidth":0},"encoding":{"detail":{"field":"d"},"order":{"field":"n"},"fill":{"condition":[{"test":"datum.d=='l'","value":"#f9f9f9"},{"test":"datum.d=='b'","value":"#f2f2f2"}],"value":"#f5f5f5"}}},
{"transform":[{"filter":"datum.k=='g'"}],"mark":{"type":"line","stroke":"#b0b0b0","strokeWidth":1.1},"encoding":{"detail":{"field":"d"},"order":{"field":"n"}}},
{"transform":[
{"filter":"!datum.k"},
{"window":[{"op":"dense_rank","as":"i"}],"sort":[{"field":"t","order":"ascending"}]},
{"window":[{"op":"dense_rank","as":"j"}],"sort":[{"field":"R","order":"ascending"}]},
{"calculate":"[0,1,2,3]","as":"corner"},
{"flatten":["corner"]},
{"calculate":"datum.i-((datum.corner==1||datum.corner==2)?1:0)","as":"ci"},
{"calculate":"datum.j-(datum.corner>=2?1:0)","as":"cj"},
{"filter":"datum.ci>=1&&datum.cj>=1&&datum.ci<=25&&datum.cj<=22"},
{"calculate":"datum.ci*100+datum.cj","as":"cell"},
{"joinaggregate":[{"op":"mean","field":"I","as":"Imean"}],"groupby":["cell"]}
],
"mark":{"type":"line","strokeWidth":0},
"encoding":{"detail":{"field":"cell"},"order":{"field":"corner"},
"fill":{"field":"Imean","type":"quantitative","scale":{"scheme":"viridis","domain":[0.0034,0.81]},
"legend":{"type":"gradient","orient":"none","legendX":785,"legendY":96,"gradientLength":616,"gradientThickness":30,"direction":"vertical","title":null,"values":[0.1,0.2,0.3,0.4,0.5,0.6,0.7,0.8],"format":".1f","labelFont":"DejaVu Sans","labelFontSize":13.9,"labelColor":"black","labelOffset":8,"labelBaseline":"middle","gradientStrokeColor":"black","gradientStrokeWidth":1}}}},
{"transform":[{"filter":"datum.k=='a'"}],"mark":{"type":"line","stroke":"black","strokeWidth":1.1},"encoding":{"detail":{"field":"d"},"order":{"field":"n"}}},
{"transform":[{"filter":"datum.k=='lt'"}],"mark":{"type":"text","font":"DejaVu Sans","fontSize":13.9,"dx":-9,"dy":31,"baseline":"middle"},"encoding":{"text":{"field":"s"}}},
{"transform":[{"filter":"datum.k=='lr'"}],"mark":{"type":"text","font":"DejaVu Sans","fontSize":13.9,"dx":18,"dy":28,"baseline":"middle"},"encoding":{"text":{"field":"s"}}},
{"transform":[{"filter":"datum.k=='li'"}],"mark":{"type":"text","font":"DejaVu Sans","fontSize":13.9,"dx":26,"dy":4,"baseline":"middle"},"encoding":{"text":{"field":"s"}}},
{"transform":[{"filter":"datum.k=='tt'"}],"mark":{"type":"text","font":"DejaVu Sans","fontSize":13.9,"dx":-6.4,"dy":54.2,"angle":17,"baseline":"middle"},"encoding":{"text":{"field":"s"}}},
{"transform":[{"filter":"datum.k=='tr'"}],"mark":{"type":"text","font":"DejaVu Sans","fontSize":13.9,"dx":-1.9,"dy":53.8,"angle":-44,"baseline":"middle"},"encoding":{"text":{"field":"s"}}},
{"transform":[{"filter":"datum.k=='ti'"}],"mark":{"type":"text","font":"DejaVu Sans","fontSize":13.9,"dx":12.9,"dy":54.6,"angle":-88,"baseline":"middle"},"encoding":{"text":{"field":"s"}}},
{"transform":[{"filter":"datum.k=='cb'"},{"calculate":"(394-(712-(datum.cb-0.0034)/0.8066*616))/3335","as":"cy"},{"calculate":"[0.11106,0.11241]","as":"cx"},{"flatten":["cx"]}],"mark":{"type":"line","stroke":"black","strokeWidth":1.1},"encoding":{"x":{"field":"cx","type":"quantitative"},"y":{"field":"cy","type":"quantitative"},"detail":{"field":"cb"},"order":{"field":"cx"}}}
]}
